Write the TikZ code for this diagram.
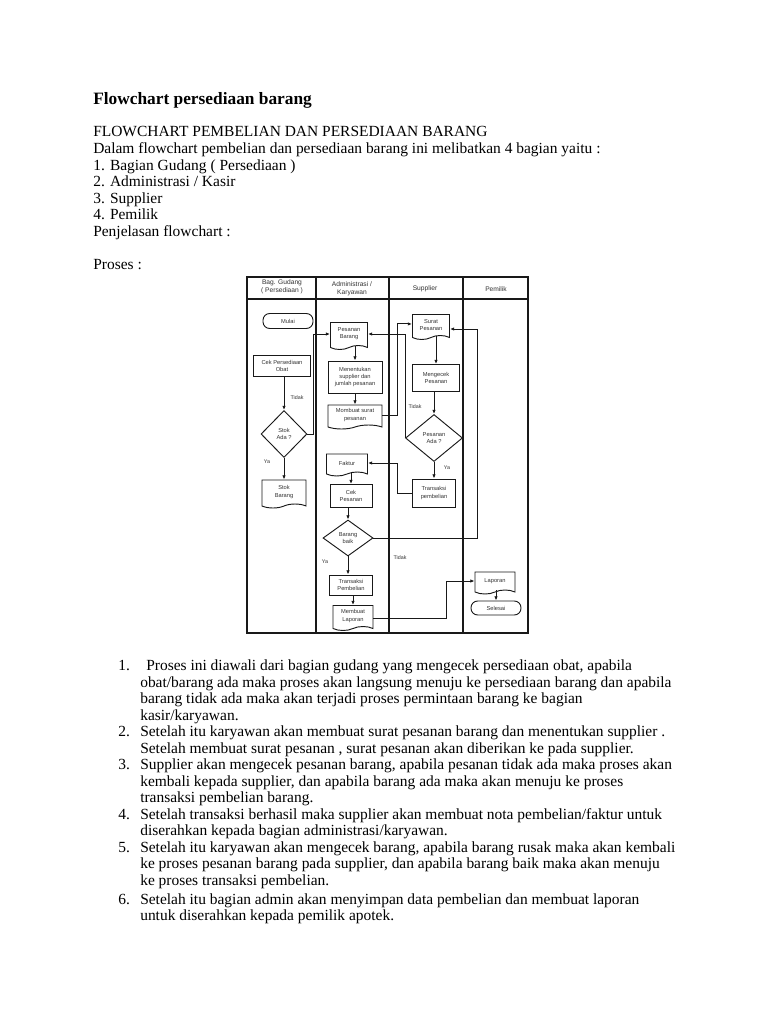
\documentclass[tikz,border=0pt]{standalone}
\usepackage{fontspec}
\setmainfont{Liberation Serif}
\newfontfamily\fcfont{Liberation Sans}
\usetikzlibrary{shapes.geometric,shapes.symbols,arrows.meta,calc}
\tikzset{
  sz/.style 2 args={minimum width=#1*0.75pt, minimum height=#2*0.75pt},
  fc/.style={font=\fcfont\fontsize{4.3}{5.3}\selectfont, align=center, inner sep=0.8pt, draw=black!90, line width=0.7pt, text=black!80},
  proc/.style={fc, rectangle},
  doc/.style={fc, tape, tape bend top=none, tape bend bottom=in and out, tape bend height=3pt},
  term/.style={fc, rectangle, rounded corners=5pt},
  dec/.style={fc, diamond, inner sep=0pt},
  arr/.style={-{Latex[length=3.2pt,width=2.6pt]}, line width=0.75pt, draw=black!90},
  lbl/.style={font=\fcfont\fontsize{4}{5}\selectfont, text=black!80, inner sep=0pt},
  hdr/.style={font=\fcfont\fontsize{5}{6}\selectfont, align=center, text=black!80, inner sep=0pt},
  body/.style={font=\fontsize{11.6}{13}\selectfont, anchor=base west, inner sep=0pt},
  frame/.style={line width=1.05pt, draw=black!90}
}
\begin{document}
\begin{tikzpicture}[x=0.75pt,y=-0.75pt]
\useasboundingbox (0,0) rectangle (768,1024);
\fill[white] (0,0) rectangle (768,1024);

% ---- header text ----
\node[body, font=\bfseries\fontsize{13}{15}\selectfont] (title) at (93,104) {Flowchart persediaan barang};
\node[body] (t1) at (93,137) {FLOWCHART PEMBELIAN DAN PERSEDIAAN BARANG};
\node[body] (t2) at (93,153) {Dalam flowchart pembelian dan persediaan barang ini melibatkan 4 bagian yaitu :};
\node[body] (t3) at (93,170) {1. Bagian Gudang ( Persediaan )};
\node[body] (t4) at (93,186) {2. Administrasi / Kasir};
\node[body] (t5) at (93,203) {3. Supplier};
\node[body] (t6) at (93,219) {4. Pemilik};
\node[body] (t7) at (93,236) {Penjelasan flowchart :};
\node[body] (t8) at (93,269) {Proses :};

% ---- swimlane frame ----
\draw[frame] (247,277) rectangle (528,633);
\draw[frame] (247,299) -- (528,299);
\draw[frame] (316,277) -- (316,633);
\draw[frame] (389,277) -- (389,633);
\draw[frame] (463,277) -- (463,633);
\node[hdr] (h1) at (282,287) {Bag. Gudang\\( Persediaan )};
\node[hdr] (h2) at (352,289) {Administrasi /\\Karyawan};
\node[hdr] (h3) at (425,289) {Supplier};
\node[hdr] (h4) at (496,289) {Pemilik};

% ---- Gudang ----
\node[term, sz={50}{15}] (mulai) at (288,321) {Mulai};
\node[proc, sz={57}{21}] (cekobat) at (282,366) {Cek Persediaan\\Obat};
\node[dec, sz={46}{47}] (stokada) at (284,434) {Stok\\Ada ?};
\node[doc, sz={44}{28}] (stokbarang) at (284,492) {Stok\\Barang};

% ---- Administrasi ----
\node[doc, sz={37}{27}] (pesbarang) at (349,334) {Pesanan\\Barang};
\node[proc, sz={54}{32}] (menentukan) at (355,377) {Menentukan\\supplier dan\\jumlah pesanan};
\node[doc, sz={54}{24}] (mombuat) at (355,415) {Mombuat surat\\pesanan};
\node[doc, sz={41}{22}] (faktur) at (347,463) {Faktur};
\node[proc, sz={42}{23}] (cekpes) at (351,496) {Cek\\Pesanan};
\node[dec, sz={50}{36}] (barangbaik) at (348,538) {Barang\\baik};
\node[proc, sz={43}{20}] (transpem) at (351,585) {Transaksi\\Pembelian};
\node[doc, sz={40}{25}] (mlap) at (353,616) {Membuat\\Laporan};

% ---- Supplier ----
\node[doc, sz={37}{25}] (suratpes) at (431,325) {Surat\\Pesanan};
\node[proc, sz={47}{27}] (mengecek) at (436,378) {Mengecek\\Pesanan};
\node[dec, sz={57}{47}] (pesada) at (434,438) {Pesanan\\Ada ?};
\node[proc, sz={43}{28}] (transsup) at (434,493) {Transaksi\\pembelian};

% ---- Pemilik ----
\node[doc, sz={40}{22}] (laporan) at (495,581) {Laporan};
\node[term, sz={50}{14}] (selesai) at (496,608) {Selesai};

% ---- connectors ----
\draw[arr] (stokada.north |- cekobat.south) -- (stokada.north);
\draw[arr] (stokada.south) -- (stokbarang.north);
\draw[arr] (stokada.east) -- ++(6,0) |- (pesbarang.west);
\draw[arr] (pesbarang.south -| menentukan.north) -- (menentukan.north);
\draw[arr] (menentukan.south) -- (mombuat.north);
\draw[arr] (mombuat.east) -- ++(15,0) |- ([yshift=0.8pt]suratpes.west);
\draw[arr] (pesada.west) |- (pesbarang.east);
\draw[arr] (suratpes.south -| mengecek.north) -- (mengecek.north);
\draw[arr] (mengecek.south -| pesada.north) -- (pesada.north);
\draw[arr] (pesada.south) -- (pesada.south |- transsup.north);
\draw[arr] (transsup.west) -- ++(-15,0) |- (faktur.east);
\draw[arr] (faktur.south -| cekpes.north) -- (cekpes.north);
\draw[arr] (cekpes.south -| barangbaik.north) -- (barangbaik.north);
\draw[arr] (barangbaik.south) -- (barangbaik.south |- transpem.north);
\draw[arr] (transpem.south -| mlap.north) -- (mlap.north);
\draw[arr] (barangbaik.east) -- ++(104,0) |- ([yshift=-3pt]suratpes.east);
\draw[arr] ([yshift=-1.5pt]mlap.east) -- ++(73,0) |- (laporan.west);
\draw[arr] (laporan.south -| selesai.north) -- (selesai.north);

% ---- branch labels ----
\node[lbl] (l1) at (297,398) {Tidak};
\node[lbl] (l2) at (267,462) {Ya};
\node[lbl] (l3) at (415,407) {Tidak};
\node[lbl] (l4) at (447,468) {Ya};
\node[lbl] (l5) at (325,562) {Ya};
\node[lbl] (l6) at (400,558) {Tidak};

% ---- numbered explanation ----
\node[body] (n1) at (118,670) {1.};
\node[body] (p1a) at (146,670) {Proses ini diawali dari bagian gudang yang mengecek persediaan obat, apabila};
\node[body] (p1b) at (140,687) {obat/barang ada maka proses akan langsung menuju ke persediaan barang dan apabila};
\node[body] (p1c) at (140,703) {barang tidak ada maka akan terjadi proses permintaan barang ke bagian};
\node[body] (p1d) at (140,720) {kasir/karyawan.};
\node[body] (n2) at (118,736) {2.};
\node[body] (p2a) at (140,736) {Setelah itu karyawan akan membuat surat pesanan barang dan menentukan supplier .};
\node[body] (p2b) at (140,753) {Setelah membuat surat pesanan , surat pesanan akan diberikan ke pada supplier.};
\node[body] (n3) at (118,769) {3.};
\node[body] (p3a) at (140,769) {Supplier akan mengecek pesanan barang, apabila pesanan tidak ada maka proses akan};
\node[body] (p3b) at (140,786) {kembali kepada supplier, dan apabila barang ada maka akan menuju ke proses};
\node[body] (p3c) at (140,802) {transaksi pembelian barang.};
\node[body] (n4) at (118,819) {4.};
\node[body] (p4a) at (140,819) {Setelah transaksi berhasil maka supplier akan membuat nota pembelian/faktur untuk};
\node[body] (p4b) at (140,835) {diserahkan kepada bagian administrasi/karyawan.};
\node[body] (n5) at (118,852) {5.};
\node[body] (p5a) at (140,852) {Setelah itu karyawan akan mengecek barang, apabila barang rusak maka akan kembali};
\node[body] (p5b) at (140,868) {ke proses pesanan barang pada supplier, dan apabila barang baik maka akan menuju};
\node[body] (p5c) at (140,885) {ke proses transaksi pembelian.};
\node[body] (n6) at (118,904) {6.};
\node[body] (p6a) at (140,904) {Setelah itu bagian admin akan menyimpan data pembelian dan membuat laporan};
\node[body] (p6b) at (140,920) {untuk diserahkan kepada pemilik apotek.};
\end{tikzpicture}
\end{document}
